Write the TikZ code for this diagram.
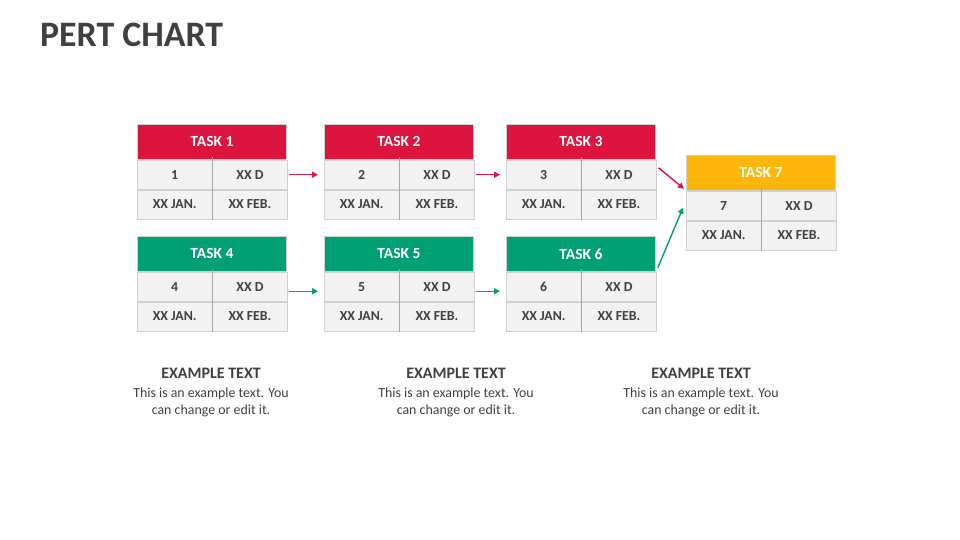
\documentclass[tikz,border=0pt]{standalone}
\usepackage{fontspec}
\setmainfont{Carlito}
\usetikzlibrary{arrows.meta,calc}
\definecolor{tred}{RGB}{220,20,62}
\definecolor{tgreen}{RGB}{0,160,116}
\definecolor{tyellow}{RGB}{255,182,10}
\definecolor{cellfill}{RGB}{242,242,242}
\definecolor{cellborder}{RGB}{208,208,208}
\definecolor{divider}{RGB}{166,166,166}
\definecolor{txt}{RGB}{64,64,64}
\tikzset{
  hdr/.style={fill=#1, draw=cellborder, line width=0.8pt, minimum width=149pt, minimum height=35pt, inner sep=0pt, text=white, font=\fontsize{15.5}{18}\selectfont\bfseries, anchor=north west},
  cell/.style={fill=cellfill, draw=cellborder, line width=0.8pt, minimum width=74.5pt, minimum height=29pt, inner sep=0pt, text=txt, font=\fontsize{13.8}{16}\selectfont\bfseries, anchor=north west},
  conn/.style={line width=1.4pt, draw=#1, -{Triangle[length=6pt,width=6pt]}},
  head/.style={text=txt, font=\fontsize{16}{19}\selectfont\bfseries},
  body/.style={text=txt, font=\fontsize{13.9}{17}\selectfont, align=center},
}
\newcommand{\pertbox}[6]{%
  % #1 name, #2 x, #3 y, #4 title, #5 number, #6 colour
  \node[hdr=#6] (#1-h) at (#2,#3) {#4};
  \node[cell] (#1-a) at (#1-h.south west) {#5};
  \node[cell] (#1-b) at (#1-a.north east) {XX D};
  \node[cell] (#1-c) at (#1-a.south west) {XX JAN.};
  \node[cell] (#1-d) at (#1-c.north east) {XX FEB.};
  \draw[cellfill, line width=1pt] ($(#1-a.north east)+(0,-0.6)$) -- ($(#1-c.south east)+(0,0.6)$);
  \draw[divider, line width=0.8pt] ($(#1-a.north east)+(0,-2.5)$) -- ($(#1-c.south east)+(0,1)$);
}
\begin{document}
\begin{tikzpicture}[x=1pt,y=-1pt]
\useasboundingbox[fill=white] (0,0) rectangle (960,540);
\node[anchor=west, text=txt, font=\fontsize{35.8}{40}\selectfont\bfseries, inner sep=0pt] (title) at (40,34.5) {PERT CHART};

\pertbox{t1}{137}{124}{TASK 1}{1}{tred}
\pertbox{t2}{324}{124}{TASK 2}{2}{tred}
\pertbox{t3}{506}{124}{TASK 3}{3}{tred}
\pertbox{t7}{686}{155}{TASK 7}{7}{tyellow}
\pertbox{t4}{137}{236}{TASK 4}{4}{tgreen}
\pertbox{t5}{324}{236}{TASK 5}{5}{tgreen}
\pertbox{t6}{506}{236}{TASK 6}{6}{tgreen}

\draw[conn=tred] ($(t1-b.east)+(1,0)$) -- ($(t2-a.west)+(-6,0)$);
\draw[conn=tred] ($(t2-b.east)+(1,0)$) -- ($(t3-a.west)+(-6,0)$);
\draw[conn=tgreen] ($(t4-b.east)+(1,4.5)$) -- ($(t5-a.west)+(-6,4.5)$);
\draw[conn=tgreen] ($(t5-b.east)+(1,4.5)$) -- ($(t6-a.west)+(-6,4.5)$);
\draw[conn=tred] ($(t3-b.north east)+(2,8)$) -- ($(t7-h.south west)+(-2,-2)$);
\draw[conn=tgreen] ($(t6-h.south east)+(2,-4)$) -- ($(t7-c.north west)+(-3,-13)$);

\node[head] (e1) at (211,373) {EXAMPLE TEXT};
\node[body] (b1) at (211,402) {This is an example text. You\\can change or edit it.};
\node[head] (e2) at (456,373) {EXAMPLE TEXT};
\node[body] (b2) at (456,402) {This is an example text. You\\can change or edit it.};
\node[head] (e3) at (701,373) {EXAMPLE TEXT};
\node[body] (b3) at (701,402) {This is an example text. You\\can change or edit it.};
\end{tikzpicture}
\end{document}
